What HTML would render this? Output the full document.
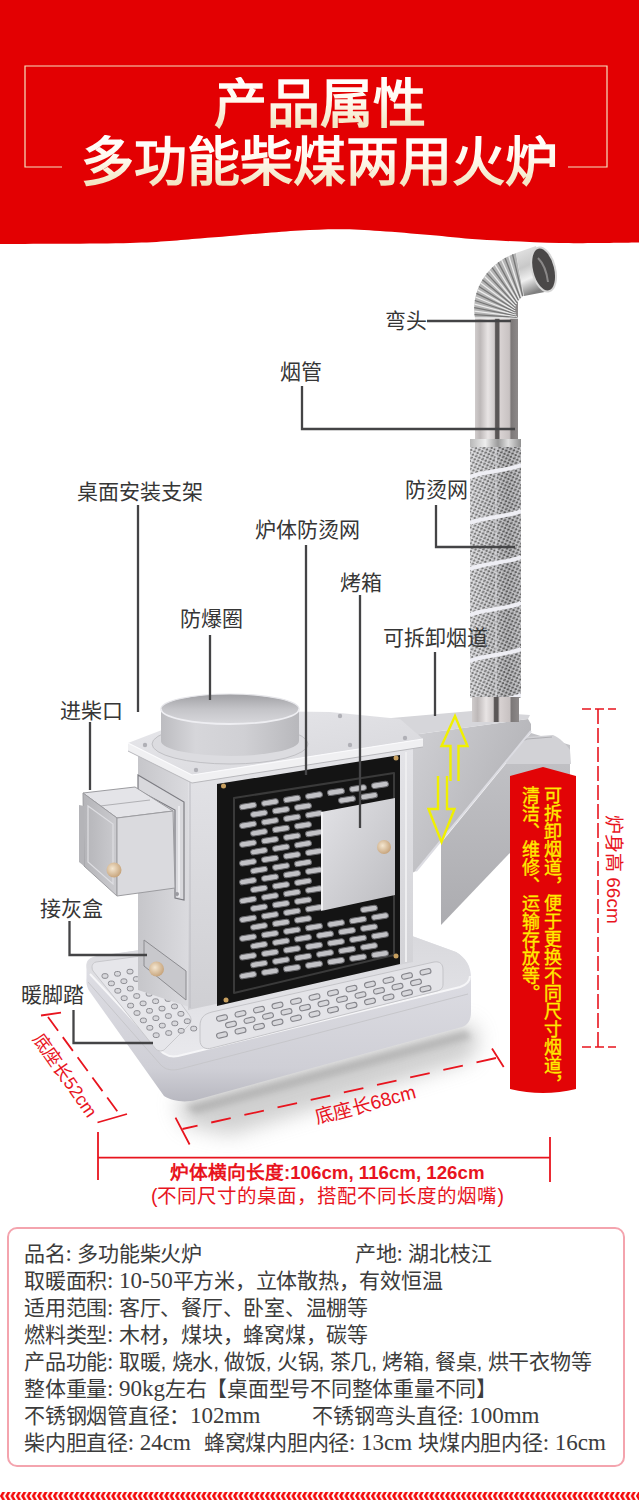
<!DOCTYPE html>
<html lang="zh-CN"><head><meta charset="utf-8">
<style>
html,body{margin:0;padding:0;}
body{width:639px;height:1500px;position:relative;overflow:hidden;background:#fff;font-family:"Liberation Sans",sans-serif;}
.a{position:absolute;white-space:nowrap;}
.lbl{position:absolute;white-space:nowrap;font-size:21px;line-height:21px;color:#363636;}
.title{position:absolute;left:0;width:639px;text-align:center;font-family:"Liberation Serif",serif;font-weight:bold;font-size:53px;line-height:56px;color:#fdf6e0;
 background:linear-gradient(180deg,#ffffff 0%,#fffaf0 40%,#f0e0b8 100%);-webkit-background-clip:text;background-clip:text;-webkit-text-fill-color:transparent;}
.spec{position:absolute;left:24px;font-size:21px;letter-spacing:-0.25px;line-height:27px;color:#3c3c3c;white-space:nowrap;}
.vcol{position:absolute;color:#ffec00;font-size:18px;line-height:18px;width:20px;-webkit-text-stroke:0.35px #ffec00;}
.pu{position:relative;left:11px;top:-11px;}
.L{font-family:"Liberation Serif",serif;font-size:23px;letter-spacing:0;}
</style></head>
<body>
<svg class="a" style="left:0;top:0" width="639" height="1500" viewBox="0 0 639 1500">
<defs>
<linearGradient id="gFront" x1="0" y1="0" x2="0" y2="1"><stop offset="0" stop-color="#e4e4e8"/><stop offset="1" stop-color="#cfcfd3"/></linearGradient>
<linearGradient id="gSide" x1="0" y1="0" x2="1" y2="0"><stop offset="0" stop-color="#c6c6ca"/><stop offset="1" stop-color="#dcdce0"/></linearGradient>
<linearGradient id="gPlate" x1="0" y1="0" x2="1" y2="1"><stop offset="0" stop-color="#e8e8ec"/><stop offset="1" stop-color="#d6d6da"/></linearGradient>
<linearGradient id="gRing" x1="0" y1="0" x2="1" y2="0"><stop offset="0" stop-color="#bcbcc0"/><stop offset="0.25" stop-color="#d6d6da"/><stop offset="0.6" stop-color="#d0d0d4"/><stop offset="1" stop-color="#b8b8bc"/></linearGradient>
<linearGradient id="gRingIn" x1="0" y1="0" x2="0" y2="1"><stop offset="0" stop-color="#a9a9ad"/><stop offset="1" stop-color="#c9c9cd"/></linearGradient>
<linearGradient id="gDoor" x1="0" y1="0" x2="1" y2="1"><stop offset="0" stop-color="#e2e2e6"/><stop offset="1" stop-color="#bdbdc1"/></linearGradient>
<linearGradient id="gTrayWall" x1="0" y1="0" x2="0" y2="1"><stop offset="0" stop-color="#e2e2e8"/><stop offset="0.8" stop-color="#cfcfd6"/><stop offset="1" stop-color="#b8b8c0"/></linearGradient>
<linearGradient id="gTrayTop" x1="0" y1="0" x2="0" y2="1"><stop offset="0" stop-color="#d9d9dd"/><stop offset="1" stop-color="#e9e9ed"/></linearGradient>
<linearGradient id="gShelf" x1="0" y1="0" x2="1" y2="0.6"><stop offset="0" stop-color="#d0d0d4"/><stop offset="1" stop-color="#b0b0b4"/></linearGradient>
<linearGradient id="gPanel2" x1="0" y1="0" x2="0" y2="1"><stop offset="0" stop-color="#c4c4c8"/><stop offset="1" stop-color="#acacb0"/></linearGradient>
<linearGradient id="gPipe" x1="0" y1="0" x2="1" y2="0"><stop offset="0" stop-color="#d0cccc"/><stop offset="0.12" stop-color="#bdb8b8"/><stop offset="0.3" stop-color="#e8e4e4"/><stop offset="0.45" stop-color="#cfcaca"/><stop offset="0.48" stop-color="#5a5656"/><stop offset="0.55" stop-color="#5a5656"/><stop offset="0.59" stop-color="#d8d2d2"/><stop offset="0.8" stop-color="#c8c2c2"/><stop offset="0.84" stop-color="#7c7878"/><stop offset="1" stop-color="#8e8a8a"/></linearGradient>
<linearGradient id="gMesh" x1="0" y1="0" x2="1" y2="0"><stop offset="0" stop-color="#ffffff"/><stop offset="0.4" stop-color="#c8c8c8"/><stop offset="0.75" stop-color="#808080"/><stop offset="1" stop-color="#b0b0b0"/></linearGradient>
<linearGradient id="gShadow" x1="0" y1="0" x2="0" y2="1"><stop offset="0" stop-color="#c8c8c8"/><stop offset="0.5" stop-color="#e8e8e8"/><stop offset="1" stop-color="#ffffff" stop-opacity="0"/></linearGradient>
<linearGradient id="gBoxL" x1="0" y1="0" x2="1" y2="0"><stop offset="0" stop-color="#b4b4b8"/><stop offset="1" stop-color="#cbcbcf"/></linearGradient>
<linearGradient id="gCol2" x1="0" y1="0" x2="1" y2="0"><stop offset="0" stop-color="#b8b8b8"/><stop offset="0.3" stop-color="#eeeeee"/><stop offset="0.55" stop-color="#9a9a9a"/><stop offset="0.75" stop-color="#e0e0e0"/><stop offset="1" stop-color="#909090"/></linearGradient>
<radialGradient id="gKnob" cx="0.4" cy="0.4" r="0.6"><stop offset="0" stop-color="#f4e6d0"/><stop offset="1" stop-color="#c8a67e"/></radialGradient>
<filter id="fBlur" x="-30%" y="-30%" width="160%" height="160%"><feGaussianBlur stdDeviation="10"/></filter>
<filter id="fBlur2" x="-30%" y="-100%" width="160%" height="300%"><feGaussianBlur stdDeviation="3"/></filter>
<clipPath id="cMesh"><rect x="470" y="447" width="51" height="250"/></clipPath>
<pattern id="pMesh" width="5" height="5" patternUnits="userSpaceOnUse" patternTransform="rotate(-20)"><rect width="5" height="5" fill="#d4d4d8"/><ellipse cx="1.5" cy="1.5" rx="1.5" ry="0.9" fill="#383838"/><ellipse cx="4" cy="4" rx="1.5" ry="0.9" fill="#383838"/></pattern>
</defs>
<path d="M0,0 L639,0 L639,242.5 C625.8,242.6 586.5,243.5 560.0,243.0 C533.5,242.5 501.7,240.8 480.0,239.5 C458.3,238.2 446.7,236.4 430.0,235.0 C413.3,233.6 395.0,232.0 380.0,231.0 C365.0,230.0 353.3,229.3 340.0,229.2 C326.7,229.1 313.3,229.8 300.0,230.5 C286.7,231.2 276.7,232.2 260.0,233.5 C243.3,234.8 221.7,236.9 200.0,238.5 C178.3,240.1 163.3,242.1 130.0,243.0 C96.7,243.9 21.7,243.8 0.0,244.0 Z" fill="#e30002"/>
<path d="M62,167 H25 V66 H607 V167 H568" stroke="#f6e2c0" stroke-width="1.2" fill="none"/>
<path d="M175,1100 L470,1022 L480,1040 L470,1060 L230,1135 L185,1125 Z" fill="#b0b0b0" opacity="0.6" filter="url(#fBlur)"/>
<path d="M185,1106 L466,1030 L472,1038 L195,1114 Z" fill="#8a8a8a" opacity="0.4" filter="url(#fBlur2)"/>
<polygon points="441,843 531,733 570,745 570,790 441,925" fill="url(#gPanel2)" />
<path d="M506,758 C512,748 518,740 526,737 L553,735 C560,738 566,744 570,750 L571,764 L506,764 Z" fill="#d2d2d6"/>
<path d="M508,757 C515,747 520,741 527,739 L552,737" stroke="#b0b0b4" stroke-width="1.2" fill="none"/>
<polygon points="412,735 528,719 531,724 531,731 416,871 412,873" fill="url(#gShelf)" />
<line x1="531" y1="731" x2="416" y2="871" stroke="#dcdce2" stroke-width="2"/>
<polygon points="380,719 472,711 530,715 528,719 412,735" fill="#d6d6da" />
<rect x="475" y="300" width="43" height="145" fill="url(#gPipe)"/>
<polygon points="475,318 474.707,316.139 474.481,314.258 474.321,312.358 474.228,310.443 474.205,308.514 474.251,306.575 474.367,304.628 474.554,302.675 474.812,300.718 475.142,298.761 475.545,296.807 476.019,294.857 476.567,292.914 477.186,290.982 477.879,289.062 478.644,287.159 479.481,285.273 480.389,283.409 481.369,281.568 482.42,279.754 483.541,277.969 484.732,276.216 485.991,274.498 487.317,272.817 488.71,271.176 490.168,269.577 491.69,268.023 493.274,266.517 494.92,265.061 496.625,263.657 498.388,262.308 500.207,261.016 502.081,259.784 504.006,258.614 505.982,257.507 508.007,256.467 510.077,255.494 512.19,254.591 514.345,253.76 516.539,253.003 524.006,295.349 523.286,295.821 522.593,296.314 521.929,296.828 521.294,297.362 520.689,297.914 520.115,298.483 519.57,299.067 519.057,299.665 518.575,300.275 518.125,300.896 517.706,301.527 517.319,302.165 516.964,302.811 516.641,303.461 516.349,304.115 516.089,304.772 515.861,305.43 515.663,306.087 515.497,306.742 515.36,307.394 515.254,308.042 515.177,308.684 515.129,309.319 515.11,309.945 515.118,310.562 515.153,311.169 515.215,311.764 515.302,312.346 515.413,312.915 515.549,313.468 515.708,314.006 515.888,314.527 516.09,315.03 516.311,315.515 516.552,315.981 516.81,316.427 517.085,316.853 517.376,317.257 517.681,317.64 518,318" fill="#b4b4b4" />
<line x1="475.0" y1="318.0" x2="518.0" y2="318.0" stroke="#ececec" stroke-width="1.3"/>
<line x1="474.5" y1="314.6" x2="517.4" y2="317.3" stroke="#767676" stroke-width="1.3"/>
<line x1="474.3" y1="311.1" x2="516.9" y2="316.6" stroke="#ececec" stroke-width="1.3"/>
<line x1="474.2" y1="307.6" x2="516.4" y2="315.8" stroke="#767676" stroke-width="1.3"/>
<line x1="474.4" y1="304.1" x2="516.0" y2="314.9" stroke="#ececec" stroke-width="1.3"/>
<line x1="474.8" y1="300.5" x2="515.7" y2="314.0" stroke="#767676" stroke-width="1.3"/>
<line x1="475.5" y1="297.0" x2="515.4" y2="313.0" stroke="#ececec" stroke-width="1.3"/>
<line x1="476.4" y1="293.4" x2="515.2" y2="311.9" stroke="#767676" stroke-width="1.3"/>
<line x1="477.6" y1="289.9" x2="515.1" y2="310.8" stroke="#ececec" stroke-width="1.3"/>
<line x1="478.9" y1="286.5" x2="515.1" y2="309.7" stroke="#767676" stroke-width="1.3"/>
<line x1="480.6" y1="283.1" x2="515.2" y2="308.6" stroke="#ececec" stroke-width="1.3"/>
<line x1="482.4" y1="279.8" x2="515.4" y2="307.4" stroke="#767676" stroke-width="1.3"/>
<line x1="484.5" y1="276.5" x2="515.6" y2="306.2" stroke="#ececec" stroke-width="1.3"/>
<line x1="486.8" y1="273.4" x2="516.0" y2="305.0" stroke="#767676" stroke-width="1.3"/>
<line x1="489.4" y1="270.4" x2="516.5" y2="303.8" stroke="#ececec" stroke-width="1.3"/>
<line x1="492.1" y1="267.6" x2="517.1" y2="302.6" stroke="#767676" stroke-width="1.3"/>
<line x1="495.1" y1="264.9" x2="517.7" y2="301.5" stroke="#ececec" stroke-width="1.3"/>
<line x1="498.2" y1="262.4" x2="518.5" y2="300.3" stroke="#767676" stroke-width="1.3"/>
<line x1="501.6" y1="260.1" x2="519.4" y2="299.2" stroke="#ececec" stroke-width="1.3"/>
<line x1="505.1" y1="258.0" x2="520.4" y2="298.2" stroke="#767676" stroke-width="1.3"/>
<line x1="508.8" y1="256.1" x2="521.5" y2="297.2" stroke="#ececec" stroke-width="1.3"/>
<line x1="512.6" y1="254.4" x2="522.7" y2="296.2" stroke="#767676" stroke-width="1.3"/>
<line x1="516.5" y1="253.0" x2="524.0" y2="295.3" stroke="#ececec" stroke-width="1.3"/>
<defs><linearGradient id="gCol" x1="0" y1="0" x2="0.3" y2="1"><stop offset="0" stop-color="#e8e8e8"/><stop offset="0.45" stop-color="#c8c8c8"/><stop offset="0.7" stop-color="#f0f0f0"/><stop offset="1" stop-color="#808080"/></linearGradient></defs>
<polygon points="516,253 536,246 550,291 524,296" fill="url(#gCol)" />
<ellipse cx="543.6" cy="269.5" rx="11.5" ry="22.5" transform="rotate(-14 543.6 269.5)" fill="#4a4848" stroke="#d6d6d6" stroke-width="2"/>
<path d="M538,258 Q546,266 548,282" stroke="#8a8888" stroke-width="2" fill="none"/>
<rect x="470" y="440" width="51" height="258" fill="url(#pMesh)"/>
<rect x="470" y="440" width="51" height="258" fill="url(#gMesh)" opacity="0.3"/>
<line x1="496" y1="447" x2="496" y2="698" stroke="#e0e0e4" stroke-width="2" opacity="0.5"/>
<path d="M470.0,478.0 L470.3,477.3 L471.2,476.6 L472.8,475.9 L474.9,475.2 L477.5,474.5 L480.5,473.8 L483.9,473.1 L487.6,472.4 L491.5,471.7 L495.5,471.0 L499.5,470.3 L503.4,469.6 L507.1,468.9 L510.5,468.2 L513.5,467.5 L516.1,466.8 L518.2,466.1 L519.8,465.4 L520.7,464.7 L521.0,464.0" stroke="#eeeef4" stroke-width="4" fill="none" clip-path="url(#cMesh)"/>
<path d="M470.0,524.0 L470.3,523.3 L471.2,522.6 L472.8,521.9 L474.9,521.2 L477.5,520.5 L480.5,519.8 L483.9,519.1 L487.6,518.4 L491.5,517.7 L495.5,517.0 L499.5,516.3 L503.4,515.6 L507.1,514.9 L510.5,514.2 L513.5,513.5 L516.1,512.8 L518.2,512.1 L519.8,511.4 L520.7,510.7 L521.0,510.0" stroke="#eeeef4" stroke-width="4" fill="none" clip-path="url(#cMesh)"/>
<path d="M470.0,570.0 L470.3,569.3 L471.2,568.6 L472.8,567.9 L474.9,567.2 L477.5,566.5 L480.5,565.8 L483.9,565.1 L487.6,564.4 L491.5,563.7 L495.5,563.0 L499.5,562.3 L503.4,561.6 L507.1,560.9 L510.5,560.2 L513.5,559.5 L516.1,558.8 L518.2,558.1 L519.8,557.4 L520.7,556.7 L521.0,556.0" stroke="#eeeef4" stroke-width="4" fill="none" clip-path="url(#cMesh)"/>
<path d="M470.0,616.0 L470.3,615.3 L471.2,614.6 L472.8,613.9 L474.9,613.2 L477.5,612.5 L480.5,611.8 L483.9,611.1 L487.6,610.4 L491.5,609.7 L495.5,609.0 L499.5,608.3 L503.4,607.6 L507.1,606.9 L510.5,606.2 L513.5,605.5 L516.1,604.8 L518.2,604.1 L519.8,603.4 L520.7,602.7 L521.0,602.0" stroke="#eeeef4" stroke-width="4" fill="none" clip-path="url(#cMesh)"/>
<path d="M470.0,662.0 L470.3,661.3 L471.2,660.6 L472.8,659.9 L474.9,659.2 L477.5,658.5 L480.5,657.8 L483.9,657.1 L487.6,656.4 L491.5,655.7 L495.5,655.0 L499.5,654.3 L503.4,653.6 L507.1,652.9 L510.5,652.2 L513.5,651.5 L516.1,650.8 L518.2,650.1 L519.8,649.4 L520.7,648.7 L521.0,648.0" stroke="#eeeef4" stroke-width="4" fill="none" clip-path="url(#cMesh)"/>
<path d="M470.0,708.0 L470.3,707.3 L471.2,706.6 L472.8,705.9 L474.9,705.2 L477.5,704.5 L480.5,703.8 L483.9,703.1 L487.6,702.4 L491.5,701.7 L495.5,701.0 L499.5,700.3 L503.4,699.6 L507.1,698.9 L510.5,698.2 L513.5,697.5 L516.1,696.8 L518.2,696.1 L519.8,695.4 L520.7,694.7 L521.0,694.0" stroke="#eeeef4" stroke-width="4" fill="none" clip-path="url(#cMesh)"/>
<rect x="470" y="439" width="51" height="8" fill="url(#gCol2)"/>
<rect x="472" y="697" width="47" height="25" fill="url(#gPipe)"/>
<path d="M86.5,966 C86,961 89,958 94,957 L140,950 L412,936 L456,952 C466,958 471,966 471,978 L471,1012 C471,1020 468,1025 462,1027 L196,1100 C184,1103 172,1101 164,1096 L90,992 C87,988 86,984 86.5,978 Z" fill="url(#gTrayWall)"/>
<path d="M86.5,966 C87,960 91,957 97,956 L140,950 L412,936 L456,952 C466,958 470,966 470,976 C470,982 466,985 460,987 L178,1056 C168,1058 160,1052 155,1044 L90,974 C87.5,971 86.5,969 86.5,966 Z" fill="url(#gTrayTop)"/>
<path d="M90,974 L155,1044 C160,1052 168,1058 178,1056 L460,987 C466,985 470,982 470,976" stroke="#f6f6f8" stroke-width="2" fill="none"/>
<path d="M88,982 L160,1064 C165,1070 172,1071 180,1069 L468,994" stroke="#c6c6ca" stroke-width="1" fill="none"/>
<path d="M96,962 L141,956 C145,956 147,957 149,960 L190,1016 C192,1020 191,1023 188,1026 L166,1048 C163,1052 158,1052 155,1048 L93,971 C91,967 92,963 96,962 Z" fill="#e6e6ea" stroke="#c8c8cc" stroke-width="1"/>
<rect x="102" y="973.7" width="6" height="4.6" rx="2" fill="#d8d8dc" stroke="#8c8c92" stroke-width="1"/>
<rect x="114.5" y="971.5" width="6" height="4.6" rx="2" fill="#d8d8dc" stroke="#8c8c92" stroke-width="1"/>
<rect x="127" y="969.3" width="6" height="4.6" rx="2" fill="#d8d8dc" stroke="#8c8c92" stroke-width="1"/>
<rect x="108.4" y="981.1" width="6" height="4.6" rx="2" fill="#d8d8dc" stroke="#8c8c92" stroke-width="1"/>
<rect x="120.9" y="978.9" width="6" height="4.6" rx="2" fill="#d8d8dc" stroke="#8c8c92" stroke-width="1"/>
<rect x="133.4" y="976.7" width="6" height="4.6" rx="2" fill="#d8d8dc" stroke="#8c8c92" stroke-width="1"/>
<rect x="114.8" y="988.5" width="6" height="4.6" rx="2" fill="#d8d8dc" stroke="#8c8c92" stroke-width="1"/>
<rect x="127.3" y="986.3" width="6" height="4.6" rx="2" fill="#d8d8dc" stroke="#8c8c92" stroke-width="1"/>
<rect x="139.8" y="984.1" width="6" height="4.6" rx="2" fill="#d8d8dc" stroke="#8c8c92" stroke-width="1"/>
<rect x="121.2" y="995.9" width="6" height="4.6" rx="2" fill="#d8d8dc" stroke="#8c8c92" stroke-width="1"/>
<rect x="133.7" y="993.7" width="6" height="4.6" rx="2" fill="#d8d8dc" stroke="#8c8c92" stroke-width="1"/>
<rect x="146.2" y="991.5" width="6" height="4.6" rx="2" fill="#d8d8dc" stroke="#8c8c92" stroke-width="1"/>
<rect x="158.7" y="989.3" width="6" height="4.6" rx="2" fill="#d8d8dc" stroke="#8c8c92" stroke-width="1"/>
<rect x="127.6" y="1003.3" width="6" height="4.6" rx="2" fill="#d8d8dc" stroke="#8c8c92" stroke-width="1"/>
<rect x="140.1" y="1001.1" width="6" height="4.6" rx="2" fill="#d8d8dc" stroke="#8c8c92" stroke-width="1"/>
<rect x="152.6" y="998.9" width="6" height="4.6" rx="2" fill="#d8d8dc" stroke="#8c8c92" stroke-width="1"/>
<rect x="165.1" y="996.7" width="6" height="4.6" rx="2" fill="#d8d8dc" stroke="#8c8c92" stroke-width="1"/>
<rect x="134" y="1010.7" width="6" height="4.6" rx="2" fill="#d8d8dc" stroke="#8c8c92" stroke-width="1"/>
<rect x="146.5" y="1008.5" width="6" height="4.6" rx="2" fill="#d8d8dc" stroke="#8c8c92" stroke-width="1"/>
<rect x="159" y="1006.3" width="6" height="4.6" rx="2" fill="#d8d8dc" stroke="#8c8c92" stroke-width="1"/>
<rect x="171.5" y="1004.1" width="6" height="4.6" rx="2" fill="#d8d8dc" stroke="#8c8c92" stroke-width="1"/>
<rect x="140.4" y="1018.1" width="6" height="4.6" rx="2" fill="#d8d8dc" stroke="#8c8c92" stroke-width="1"/>
<rect x="152.9" y="1015.9" width="6" height="4.6" rx="2" fill="#d8d8dc" stroke="#8c8c92" stroke-width="1"/>
<rect x="165.4" y="1013.7" width="6" height="4.6" rx="2" fill="#d8d8dc" stroke="#8c8c92" stroke-width="1"/>
<rect x="177.9" y="1011.5" width="6" height="4.6" rx="2" fill="#d8d8dc" stroke="#8c8c92" stroke-width="1"/>
<rect x="146.8" y="1025.5" width="6" height="4.6" rx="2" fill="#d8d8dc" stroke="#8c8c92" stroke-width="1"/>
<rect x="159.3" y="1023.3" width="6" height="4.6" rx="2" fill="#d8d8dc" stroke="#8c8c92" stroke-width="1"/>
<rect x="171.8" y="1021.1" width="6" height="4.6" rx="2" fill="#d8d8dc" stroke="#8c8c92" stroke-width="1"/>
<rect x="184.3" y="1018.9" width="6" height="4.6" rx="2" fill="#d8d8dc" stroke="#8c8c92" stroke-width="1"/>
<rect x="153.2" y="1032.9" width="6" height="4.6" rx="2" fill="#d8d8dc" stroke="#8c8c92" stroke-width="1"/>
<rect x="165.7" y="1030.7" width="6" height="4.6" rx="2" fill="#d8d8dc" stroke="#8c8c92" stroke-width="1"/>
<rect x="178.2" y="1028.5" width="6" height="4.6" rx="2" fill="#d8d8dc" stroke="#8c8c92" stroke-width="1"/>
<rect x="190.7" y="1026.3" width="6" height="4.6" rx="2" fill="#d8d8dc" stroke="#8c8c92" stroke-width="1"/>
<path d="M200,1026 C200,1018 204,1014 212,1012 L434,962 C440,961 443,964 443,970 L443,984 C443,988 441,990 437,991 L212,1048 C205,1050 200,1047 200,1040 Z" fill="#e4e4e8" stroke="#c4c4c8" stroke-width="1"/>
<rect x="216.5" y="1015.5" width="11" height="5" rx="2.5" fill="#d8d8dc" stroke="#85858b" stroke-width="1.1" transform="rotate(-13 222 1018)"/>
<rect x="235" y="1011.3" width="11" height="5" rx="2.5" fill="#d8d8dc" stroke="#85858b" stroke-width="1.1" transform="rotate(-13 240.5 1013.8)"/>
<rect x="253.5" y="1007.1" width="11" height="5" rx="2.5" fill="#d8d8dc" stroke="#85858b" stroke-width="1.1" transform="rotate(-13 259 1009.6)"/>
<rect x="272" y="1002.9" width="11" height="5" rx="2.5" fill="#d8d8dc" stroke="#85858b" stroke-width="1.1" transform="rotate(-13 277.5 1005.4)"/>
<rect x="290.5" y="998.7" width="11" height="5" rx="2.5" fill="#d8d8dc" stroke="#85858b" stroke-width="1.1" transform="rotate(-13 296 1001.2)"/>
<rect x="309" y="994.5" width="11" height="5" rx="2.5" fill="#d8d8dc" stroke="#85858b" stroke-width="1.1" transform="rotate(-13 314.5 997)"/>
<rect x="327.5" y="990.3" width="11" height="5" rx="2.5" fill="#d8d8dc" stroke="#85858b" stroke-width="1.1" transform="rotate(-13 333 992.8)"/>
<rect x="346" y="986.1" width="11" height="5" rx="2.5" fill="#d8d8dc" stroke="#85858b" stroke-width="1.1" transform="rotate(-13 351.5 988.6)"/>
<rect x="364.5" y="981.9" width="11" height="5" rx="2.5" fill="#d8d8dc" stroke="#85858b" stroke-width="1.1" transform="rotate(-13 370 984.4)"/>
<rect x="383" y="977.7" width="11" height="5" rx="2.5" fill="#d8d8dc" stroke="#85858b" stroke-width="1.1" transform="rotate(-13 388.5 980.2)"/>
<rect x="401.5" y="973.5" width="11" height="5" rx="2.5" fill="#d8d8dc" stroke="#85858b" stroke-width="1.1" transform="rotate(-13 407 976)"/>
<rect x="420" y="969.3" width="11" height="5" rx="2.5" fill="#d8d8dc" stroke="#85858b" stroke-width="1.1" transform="rotate(-13 425.5 971.8)"/>
<rect x="225.5" y="1021.9" width="11" height="5" rx="2.5" fill="#d8d8dc" stroke="#85858b" stroke-width="1.1" transform="rotate(-13 231 1024.4)"/>
<rect x="244" y="1017.7" width="11" height="5" rx="2.5" fill="#d8d8dc" stroke="#85858b" stroke-width="1.1" transform="rotate(-13 249.5 1020.2)"/>
<rect x="262.5" y="1013.5" width="11" height="5" rx="2.5" fill="#d8d8dc" stroke="#85858b" stroke-width="1.1" transform="rotate(-13 268 1016)"/>
<rect x="281" y="1009.3" width="11" height="5" rx="2.5" fill="#d8d8dc" stroke="#85858b" stroke-width="1.1" transform="rotate(-13 286.5 1011.8)"/>
<rect x="299.5" y="1005.1" width="11" height="5" rx="2.5" fill="#d8d8dc" stroke="#85858b" stroke-width="1.1" transform="rotate(-13 305 1007.6)"/>
<rect x="318" y="1000.9" width="11" height="5" rx="2.5" fill="#d8d8dc" stroke="#85858b" stroke-width="1.1" transform="rotate(-13 323.5 1003.4)"/>
<rect x="336.5" y="996.7" width="11" height="5" rx="2.5" fill="#d8d8dc" stroke="#85858b" stroke-width="1.1" transform="rotate(-13 342 999.2)"/>
<rect x="355" y="992.5" width="11" height="5" rx="2.5" fill="#d8d8dc" stroke="#85858b" stroke-width="1.1" transform="rotate(-13 360.5 995)"/>
<rect x="373.5" y="988.3" width="11" height="5" rx="2.5" fill="#d8d8dc" stroke="#85858b" stroke-width="1.1" transform="rotate(-13 379 990.8)"/>
<rect x="392" y="984.1" width="11" height="5" rx="2.5" fill="#d8d8dc" stroke="#85858b" stroke-width="1.1" transform="rotate(-13 397.5 986.6)"/>
<rect x="410.5" y="979.9" width="11" height="5" rx="2.5" fill="#d8d8dc" stroke="#85858b" stroke-width="1.1" transform="rotate(-13 416 982.4)"/>
<rect x="216.5" y="1032.5" width="11" height="5" rx="2.5" fill="#d8d8dc" stroke="#85858b" stroke-width="1.1" transform="rotate(-13 222 1035)"/>
<rect x="235" y="1028.3" width="11" height="5" rx="2.5" fill="#d8d8dc" stroke="#85858b" stroke-width="1.1" transform="rotate(-13 240.5 1030.8)"/>
<rect x="253.5" y="1024.1" width="11" height="5" rx="2.5" fill="#d8d8dc" stroke="#85858b" stroke-width="1.1" transform="rotate(-13 259 1026.6)"/>
<rect x="272" y="1019.9" width="11" height="5" rx="2.5" fill="#d8d8dc" stroke="#85858b" stroke-width="1.1" transform="rotate(-13 277.5 1022.4)"/>
<rect x="290.5" y="1015.7" width="11" height="5" rx="2.5" fill="#d8d8dc" stroke="#85858b" stroke-width="1.1" transform="rotate(-13 296 1018.2)"/>
<rect x="309" y="1011.5" width="11" height="5" rx="2.5" fill="#d8d8dc" stroke="#85858b" stroke-width="1.1" transform="rotate(-13 314.5 1014)"/>
<rect x="327.5" y="1007.3" width="11" height="5" rx="2.5" fill="#d8d8dc" stroke="#85858b" stroke-width="1.1" transform="rotate(-13 333 1009.8)"/>
<rect x="346" y="1003.1" width="11" height="5" rx="2.5" fill="#d8d8dc" stroke="#85858b" stroke-width="1.1" transform="rotate(-13 351.5 1005.6)"/>
<rect x="364.5" y="998.9" width="11" height="5" rx="2.5" fill="#d8d8dc" stroke="#85858b" stroke-width="1.1" transform="rotate(-13 370 1001.4)"/>
<rect x="383" y="994.7" width="11" height="5" rx="2.5" fill="#d8d8dc" stroke="#85858b" stroke-width="1.1" transform="rotate(-13 388.5 997.2)"/>
<rect x="401.5" y="990.5" width="11" height="5" rx="2.5" fill="#d8d8dc" stroke="#85858b" stroke-width="1.1" transform="rotate(-13 407 993)"/>
<rect x="420" y="986.3" width="11" height="5" rx="2.5" fill="#d8d8dc" stroke="#85858b" stroke-width="1.1" transform="rotate(-13 425.5 988.8)"/>
<polygon points="138,752 192,782 192,1008 138,990" fill="url(#gSide)" />
<polygon points="188,782 413,747 413,962 188,1010" fill="url(#gFront)" />
<line x1="190" y1="782" x2="190" y2="1008" stroke="#bcbcc2" stroke-width="1"/>
<line x1="406" y1="752" x2="406" y2="962" stroke="#eeeef0" stroke-width="2"/>
<polygon points="217,784 400,755 400,964 217,1006" fill="#141414" />
<path d="M234,798 L394,773 L394,955 L234,993 Z" fill="none" stroke="#3a3a3a" stroke-width="2" stroke-linejoin="round"/>
<rect x="239.5" y="803.25" width="17" height="5.5" rx="2.7" fill="#c2c2c6" stroke="#6a6a6e" stroke-width="1" transform="rotate(-9 248 806)"/>
<rect x="261.5" y="799.73" width="17" height="5.5" rx="2.7" fill="#c2c2c6" stroke="#6a6a6e" stroke-width="1" transform="rotate(-9 270 802.48)"/>
<rect x="283.5" y="796.21" width="17" height="5.5" rx="2.7" fill="#c2c2c6" stroke="#6a6a6e" stroke-width="1" transform="rotate(-9 292 798.96)"/>
<rect x="305.5" y="792.69" width="17" height="5.5" rx="2.7" fill="#c2c2c6" stroke="#6a6a6e" stroke-width="1" transform="rotate(-9 314 795.44)"/>
<rect x="327.5" y="789.17" width="17" height="5.5" rx="2.7" fill="#c2c2c6" stroke="#6a6a6e" stroke-width="1" transform="rotate(-9 336 791.92)"/>
<rect x="349.5" y="785.65" width="17" height="5.5" rx="2.7" fill="#c2c2c6" stroke="#6a6a6e" stroke-width="1" transform="rotate(-9 358 788.4)"/>
<rect x="371.5" y="782.13" width="17" height="5.5" rx="2.7" fill="#c2c2c6" stroke="#6a6a6e" stroke-width="1" transform="rotate(-9 380 784.88)"/>
<rect x="250.5" y="810.89" width="17" height="5.5" rx="2.7" fill="#c2c2c6" stroke="#6a6a6e" stroke-width="1" transform="rotate(-9 259 813.64)"/>
<rect x="272.5" y="807.37" width="17" height="5.5" rx="2.7" fill="#c2c2c6" stroke="#6a6a6e" stroke-width="1" transform="rotate(-9 281 810.12)"/>
<rect x="294.5" y="803.85" width="17" height="5.5" rx="2.7" fill="#c2c2c6" stroke="#6a6a6e" stroke-width="1" transform="rotate(-9 303 806.6)"/>
<rect x="338.5" y="796.81" width="17" height="5.5" rx="2.7" fill="#c2c2c6" stroke="#6a6a6e" stroke-width="1" transform="rotate(-9 347 799.56)"/>
<rect x="360.5" y="793.29" width="17" height="5.5" rx="2.7" fill="#c2c2c6" stroke="#6a6a6e" stroke-width="1" transform="rotate(-9 369 796.04)"/>
<rect x="239.5" y="822.05" width="17" height="5.5" rx="2.7" fill="#c2c2c6" stroke="#6a6a6e" stroke-width="1" transform="rotate(-9 248 824.8)"/>
<rect x="261.5" y="818.53" width="17" height="5.5" rx="2.7" fill="#c2c2c6" stroke="#6a6a6e" stroke-width="1" transform="rotate(-9 270 821.28)"/>
<rect x="283.5" y="815.01" width="17" height="5.5" rx="2.7" fill="#c2c2c6" stroke="#6a6a6e" stroke-width="1" transform="rotate(-9 292 817.76)"/>
<rect x="305.5" y="811.49" width="17" height="5.5" rx="2.7" fill="#c2c2c6" stroke="#6a6a6e" stroke-width="1" transform="rotate(-9 314 814.24)"/>
<rect x="250.5" y="829.69" width="17" height="5.5" rx="2.7" fill="#c2c2c6" stroke="#6a6a6e" stroke-width="1" transform="rotate(-9 259 832.44)"/>
<rect x="272.5" y="826.17" width="17" height="5.5" rx="2.7" fill="#c2c2c6" stroke="#6a6a6e" stroke-width="1" transform="rotate(-9 281 828.92)"/>
<rect x="294.5" y="822.65" width="17" height="5.5" rx="2.7" fill="#c2c2c6" stroke="#6a6a6e" stroke-width="1" transform="rotate(-9 303 825.4)"/>
<rect x="239.5" y="840.85" width="17" height="5.5" rx="2.7" fill="#c2c2c6" stroke="#6a6a6e" stroke-width="1" transform="rotate(-9 248 843.6)"/>
<rect x="261.5" y="837.33" width="17" height="5.5" rx="2.7" fill="#c2c2c6" stroke="#6a6a6e" stroke-width="1" transform="rotate(-9 270 840.08)"/>
<rect x="283.5" y="833.81" width="17" height="5.5" rx="2.7" fill="#c2c2c6" stroke="#6a6a6e" stroke-width="1" transform="rotate(-9 292 836.56)"/>
<rect x="305.5" y="830.29" width="17" height="5.5" rx="2.7" fill="#c2c2c6" stroke="#6a6a6e" stroke-width="1" transform="rotate(-9 314 833.04)"/>
<rect x="250.5" y="848.49" width="17" height="5.5" rx="2.7" fill="#c2c2c6" stroke="#6a6a6e" stroke-width="1" transform="rotate(-9 259 851.24)"/>
<rect x="272.5" y="844.97" width="17" height="5.5" rx="2.7" fill="#c2c2c6" stroke="#6a6a6e" stroke-width="1" transform="rotate(-9 281 847.72)"/>
<rect x="294.5" y="841.45" width="17" height="5.5" rx="2.7" fill="#c2c2c6" stroke="#6a6a6e" stroke-width="1" transform="rotate(-9 303 844.2)"/>
<rect x="239.5" y="859.65" width="17" height="5.5" rx="2.7" fill="#c2c2c6" stroke="#6a6a6e" stroke-width="1" transform="rotate(-9 248 862.4)"/>
<rect x="261.5" y="856.13" width="17" height="5.5" rx="2.7" fill="#c2c2c6" stroke="#6a6a6e" stroke-width="1" transform="rotate(-9 270 858.88)"/>
<rect x="283.5" y="852.61" width="17" height="5.5" rx="2.7" fill="#c2c2c6" stroke="#6a6a6e" stroke-width="1" transform="rotate(-9 292 855.36)"/>
<rect x="305.5" y="849.09" width="17" height="5.5" rx="2.7" fill="#c2c2c6" stroke="#6a6a6e" stroke-width="1" transform="rotate(-9 314 851.84)"/>
<rect x="250.5" y="867.29" width="17" height="5.5" rx="2.7" fill="#c2c2c6" stroke="#6a6a6e" stroke-width="1" transform="rotate(-9 259 870.04)"/>
<rect x="272.5" y="863.77" width="17" height="5.5" rx="2.7" fill="#c2c2c6" stroke="#6a6a6e" stroke-width="1" transform="rotate(-9 281 866.52)"/>
<rect x="294.5" y="860.25" width="17" height="5.5" rx="2.7" fill="#c2c2c6" stroke="#6a6a6e" stroke-width="1" transform="rotate(-9 303 863)"/>
<rect x="239.5" y="878.45" width="17" height="5.5" rx="2.7" fill="#c2c2c6" stroke="#6a6a6e" stroke-width="1" transform="rotate(-9 248 881.2)"/>
<rect x="261.5" y="874.93" width="17" height="5.5" rx="2.7" fill="#c2c2c6" stroke="#6a6a6e" stroke-width="1" transform="rotate(-9 270 877.68)"/>
<rect x="283.5" y="871.41" width="17" height="5.5" rx="2.7" fill="#c2c2c6" stroke="#6a6a6e" stroke-width="1" transform="rotate(-9 292 874.16)"/>
<rect x="305.5" y="867.89" width="17" height="5.5" rx="2.7" fill="#c2c2c6" stroke="#6a6a6e" stroke-width="1" transform="rotate(-9 314 870.64)"/>
<rect x="250.5" y="886.09" width="17" height="5.5" rx="2.7" fill="#c2c2c6" stroke="#6a6a6e" stroke-width="1" transform="rotate(-9 259 888.84)"/>
<rect x="272.5" y="882.57" width="17" height="5.5" rx="2.7" fill="#c2c2c6" stroke="#6a6a6e" stroke-width="1" transform="rotate(-9 281 885.32)"/>
<rect x="294.5" y="879.05" width="17" height="5.5" rx="2.7" fill="#c2c2c6" stroke="#6a6a6e" stroke-width="1" transform="rotate(-9 303 881.8)"/>
<rect x="239.5" y="897.25" width="17" height="5.5" rx="2.7" fill="#c2c2c6" stroke="#6a6a6e" stroke-width="1" transform="rotate(-9 248 900)"/>
<rect x="261.5" y="893.73" width="17" height="5.5" rx="2.7" fill="#c2c2c6" stroke="#6a6a6e" stroke-width="1" transform="rotate(-9 270 896.48)"/>
<rect x="283.5" y="890.21" width="17" height="5.5" rx="2.7" fill="#c2c2c6" stroke="#6a6a6e" stroke-width="1" transform="rotate(-9 292 892.96)"/>
<rect x="305.5" y="886.69" width="17" height="5.5" rx="2.7" fill="#c2c2c6" stroke="#6a6a6e" stroke-width="1" transform="rotate(-9 314 889.44)"/>
<rect x="250.5" y="904.89" width="17" height="5.5" rx="2.7" fill="#c2c2c6" stroke="#6a6a6e" stroke-width="1" transform="rotate(-9 259 907.64)"/>
<rect x="272.5" y="901.37" width="17" height="5.5" rx="2.7" fill="#c2c2c6" stroke="#6a6a6e" stroke-width="1" transform="rotate(-9 281 904.12)"/>
<rect x="294.5" y="897.85" width="17" height="5.5" rx="2.7" fill="#c2c2c6" stroke="#6a6a6e" stroke-width="1" transform="rotate(-9 303 900.6)"/>
<rect x="239.5" y="916.05" width="17" height="5.5" rx="2.7" fill="#c2c2c6" stroke="#6a6a6e" stroke-width="1" transform="rotate(-9 248 918.8)"/>
<rect x="261.5" y="912.53" width="17" height="5.5" rx="2.7" fill="#c2c2c6" stroke="#6a6a6e" stroke-width="1" transform="rotate(-9 270 915.28)"/>
<rect x="283.5" y="909.01" width="17" height="5.5" rx="2.7" fill="#c2c2c6" stroke="#6a6a6e" stroke-width="1" transform="rotate(-9 292 911.76)"/>
<rect x="305.5" y="905.49" width="17" height="5.5" rx="2.7" fill="#c2c2c6" stroke="#6a6a6e" stroke-width="1" transform="rotate(-9 314 908.24)"/>
<rect x="250.5" y="923.69" width="17" height="5.5" rx="2.7" fill="#c2c2c6" stroke="#6a6a6e" stroke-width="1" transform="rotate(-9 259 926.44)"/>
<rect x="272.5" y="920.17" width="17" height="5.5" rx="2.7" fill="#c2c2c6" stroke="#6a6a6e" stroke-width="1" transform="rotate(-9 281 922.92)"/>
<rect x="294.5" y="916.65" width="17" height="5.5" rx="2.7" fill="#c2c2c6" stroke="#6a6a6e" stroke-width="1" transform="rotate(-9 303 919.4)"/>
<rect x="360.5" y="906.09" width="17" height="5.5" rx="2.7" fill="#c2c2c6" stroke="#6a6a6e" stroke-width="1" transform="rotate(-9 369 908.84)"/>
<rect x="239.5" y="934.85" width="17" height="5.5" rx="2.7" fill="#c2c2c6" stroke="#6a6a6e" stroke-width="1" transform="rotate(-9 248 937.6)"/>
<rect x="261.5" y="931.33" width="17" height="5.5" rx="2.7" fill="#c2c2c6" stroke="#6a6a6e" stroke-width="1" transform="rotate(-9 270 934.08)"/>
<rect x="283.5" y="927.81" width="17" height="5.5" rx="2.7" fill="#c2c2c6" stroke="#6a6a6e" stroke-width="1" transform="rotate(-9 292 930.56)"/>
<rect x="305.5" y="924.29" width="17" height="5.5" rx="2.7" fill="#c2c2c6" stroke="#6a6a6e" stroke-width="1" transform="rotate(-9 314 927.04)"/>
<rect x="327.5" y="920.77" width="17" height="5.5" rx="2.7" fill="#c2c2c6" stroke="#6a6a6e" stroke-width="1" transform="rotate(-9 336 923.52)"/>
<rect x="349.5" y="917.25" width="17" height="5.5" rx="2.7" fill="#c2c2c6" stroke="#6a6a6e" stroke-width="1" transform="rotate(-9 358 920)"/>
<rect x="371.5" y="913.73" width="17" height="5.5" rx="2.7" fill="#c2c2c6" stroke="#6a6a6e" stroke-width="1" transform="rotate(-9 380 916.48)"/>
<rect x="250.5" y="942.49" width="17" height="5.5" rx="2.7" fill="#c2c2c6" stroke="#6a6a6e" stroke-width="1" transform="rotate(-9 259 945.24)"/>
<rect x="272.5" y="938.97" width="17" height="5.5" rx="2.7" fill="#c2c2c6" stroke="#6a6a6e" stroke-width="1" transform="rotate(-9 281 941.72)"/>
<rect x="294.5" y="935.45" width="17" height="5.5" rx="2.7" fill="#c2c2c6" stroke="#6a6a6e" stroke-width="1" transform="rotate(-9 303 938.2)"/>
<rect x="316.5" y="931.93" width="17" height="5.5" rx="2.7" fill="#c2c2c6" stroke="#6a6a6e" stroke-width="1" transform="rotate(-9 325 934.68)"/>
<rect x="338.5" y="928.41" width="17" height="5.5" rx="2.7" fill="#c2c2c6" stroke="#6a6a6e" stroke-width="1" transform="rotate(-9 347 931.16)"/>
<rect x="360.5" y="924.89" width="17" height="5.5" rx="2.7" fill="#c2c2c6" stroke="#6a6a6e" stroke-width="1" transform="rotate(-9 369 927.64)"/>
<rect x="239.5" y="953.65" width="17" height="5.5" rx="2.7" fill="#c2c2c6" stroke="#6a6a6e" stroke-width="1" transform="rotate(-9 248 956.4)"/>
<rect x="261.5" y="950.13" width="17" height="5.5" rx="2.7" fill="#c2c2c6" stroke="#6a6a6e" stroke-width="1" transform="rotate(-9 270 952.88)"/>
<rect x="283.5" y="946.61" width="17" height="5.5" rx="2.7" fill="#c2c2c6" stroke="#6a6a6e" stroke-width="1" transform="rotate(-9 292 949.36)"/>
<rect x="305.5" y="943.09" width="17" height="5.5" rx="2.7" fill="#c2c2c6" stroke="#6a6a6e" stroke-width="1" transform="rotate(-9 314 945.84)"/>
<rect x="327.5" y="939.57" width="17" height="5.5" rx="2.7" fill="#c2c2c6" stroke="#6a6a6e" stroke-width="1" transform="rotate(-9 336 942.32)"/>
<rect x="349.5" y="936.05" width="17" height="5.5" rx="2.7" fill="#c2c2c6" stroke="#6a6a6e" stroke-width="1" transform="rotate(-9 358 938.8)"/>
<rect x="371.5" y="932.53" width="17" height="5.5" rx="2.7" fill="#c2c2c6" stroke="#6a6a6e" stroke-width="1" transform="rotate(-9 380 935.28)"/>
<rect x="250.5" y="961.29" width="17" height="5.5" rx="2.7" fill="#c2c2c6" stroke="#6a6a6e" stroke-width="1" transform="rotate(-9 259 964.04)"/>
<rect x="272.5" y="957.77" width="17" height="5.5" rx="2.7" fill="#c2c2c6" stroke="#6a6a6e" stroke-width="1" transform="rotate(-9 281 960.52)"/>
<rect x="294.5" y="954.25" width="17" height="5.5" rx="2.7" fill="#c2c2c6" stroke="#6a6a6e" stroke-width="1" transform="rotate(-9 303 957)"/>
<rect x="316.5" y="950.73" width="17" height="5.5" rx="2.7" fill="#c2c2c6" stroke="#6a6a6e" stroke-width="1" transform="rotate(-9 325 953.48)"/>
<rect x="338.5" y="947.21" width="17" height="5.5" rx="2.7" fill="#c2c2c6" stroke="#6a6a6e" stroke-width="1" transform="rotate(-9 347 949.96)"/>
<rect x="360.5" y="943.69" width="17" height="5.5" rx="2.7" fill="#c2c2c6" stroke="#6a6a6e" stroke-width="1" transform="rotate(-9 369 946.44)"/>
<rect x="239.5" y="972.45" width="17" height="5.5" rx="2.7" fill="#c2c2c6" stroke="#6a6a6e" stroke-width="1" transform="rotate(-9 248 975.2)"/>
<rect x="261.5" y="968.93" width="17" height="5.5" rx="2.7" fill="#c2c2c6" stroke="#6a6a6e" stroke-width="1" transform="rotate(-9 270 971.68)"/>
<rect x="283.5" y="965.41" width="17" height="5.5" rx="2.7" fill="#c2c2c6" stroke="#6a6a6e" stroke-width="1" transform="rotate(-9 292 968.16)"/>
<rect x="305.5" y="961.89" width="17" height="5.5" rx="2.7" fill="#c2c2c6" stroke="#6a6a6e" stroke-width="1" transform="rotate(-9 314 964.64)"/>
<rect x="327.5" y="958.37" width="17" height="5.5" rx="2.7" fill="#c2c2c6" stroke="#6a6a6e" stroke-width="1" transform="rotate(-9 336 961.12)"/>
<rect x="349.5" y="954.85" width="17" height="5.5" rx="2.7" fill="#c2c2c6" stroke="#6a6a6e" stroke-width="1" transform="rotate(-9 358 957.6)"/>
<rect x="371.5" y="951.33" width="17" height="5.5" rx="2.7" fill="#c2c2c6" stroke="#6a6a6e" stroke-width="1" transform="rotate(-9 380 954.08)"/>
<polygon points="321,812 395,798 395,895 321,911" fill="url(#gDoor)" />
<line x1="322" y1="812" x2="322" y2="910" stroke="#f2f2f4" stroke-width="2"/>
<circle cx="384" cy="847" r="7" fill="url(#gKnob)"/>
<circle cx="223.5" cy="786" r="2.5" fill="#c8a060"/>
<circle cx="396" cy="956" r="2.5" fill="#c8a060"/>
<circle cx="226" cy="1000" r="2.5" fill="#c8a060"/>
<circle cx="396" cy="758" r="2.5" fill="#c8a060"/>
<polygon points="128,743 175,725 250,711 330,712 400,719 423,739 192,775" fill="url(#gPlate)" />
<polygon points="128,743 192,775 423,739 423,747 192,783 128,751" fill="#f0f0f2" />
<path d="M128,751 L192,783 L423,747" stroke="#b8b8bc" stroke-width="1" fill="none"/>
<path d="M128,743 L192,775 L423,739" stroke="#fafafc" stroke-width="1.2" fill="none"/>
<circle cx="145" cy="745" r="2.2" fill="#b0b0b6"/>
<circle cx="196" cy="770" r="2.2" fill="#b0b0b6"/>
<circle cx="350" cy="745" r="2.2" fill="#b0b0b6"/>
<circle cx="405" cy="738" r="2.2" fill="#b0b0b6"/>
<circle cx="340" cy="716" r="2.2" fill="#b0b0b6"/>
<ellipse cx="230" cy="744" rx="78" ry="20" fill="#dcdce0" stroke="#c0c0c4" stroke-width="1"/>
<path d="M161,709 L161,741 A69,15 0 0 0 299,741 L299,709 Z" fill="url(#gRing)"/>
<defs><linearGradient id="gRingIn2" x1="0" y1="0" x2="0" y2="1"><stop offset="0" stop-color="#a0a0a4"/><stop offset="0.5" stop-color="#c4c4c8"/><stop offset="1" stop-color="#d8d8dc"/></linearGradient></defs>
<ellipse cx="230" cy="709" rx="69" ry="15" fill="url(#gRingIn2)"/>
<path d="M161,709 A69,15 0 0 1 299,709" fill="none" stroke="#e6e6ea" stroke-width="1.2"/>
<path d="M161,709 A69,15 0 0 0 299,709" fill="none" stroke="#eeeef2" stroke-width="1.8"/>
<polygon points="138,775 184,802 184,900 175,898 175,810 138,790" fill="#d8d8dc" stroke="#7c7c82" stroke-width="1.2"/>
<line x1="179" y1="806" x2="179" y2="897" stroke="#f2f2f4" stroke-width="1.5"/>
<circle cx="177" cy="894" r="2" fill="#9a9aa0"/>
<polygon points="83,793 135,787 173,811 117,818" fill="#e4e4e8" stroke="#9c9ca0" stroke-width="1"/>
<line x1="100" y1="806" x2="150" y2="800" stroke="#b0b0b4" stroke-width="1"/>
<polygon points="83,793 117,818 117,896 84,866" fill="url(#gBoxL)" stroke="#9c9ca0" stroke-width="1"/>
<polygon points="88,806 113,824 113,884 88,862" fill="none" stroke="#dedee2" stroke-width="1.2"/>
<polygon points="79,805 84,806 84,866 79,862" fill="#b4b4b8" />
<polygon points="117,818 173,811 175,888 117,896" fill="#dadade" stroke="#9c9ca0" stroke-width="1"/>
<circle cx="114" cy="870" r="7.5" fill="url(#gKnob)"/>
<polygon points="144,940 186,971 186,1000 144,966" fill="#c8c8cc" stroke="#8c8c90" stroke-width="1"/>
<circle cx="156.5" cy="969" r="7.5" fill="url(#gKnob)"/>
<path d="M450.5,781 V746 H441.5 L455,716 L467.5,746 H458.5 V781" fill="none" stroke="#f0f000" stroke-width="2.4" stroke-linejoin="miter"/>
<path d="M438,776 V809 H428.5 L441.5,842 L454.5,809 H447 V776" fill="none" stroke="#f0f000" stroke-width="2.4" stroke-linejoin="miter"/>
<path d="M510,776 L543,767 L576,776 L576,1089 Q543,1097 510,1089 Z" fill="#e20406"/>
<path d="M427,321 H511" stroke="#444446" stroke-width="2.3" fill="none"/>
<path d="M302,386 V429 H515" stroke="#444446" stroke-width="2.3" fill="none"/>
<path d="M436,505 V547 H515" stroke="#444446" stroke-width="2.3" fill="none"/>
<path d="M435,652 V716" stroke="#444446" stroke-width="2.3" fill="none"/>
<path d="M138,505 V712" stroke="#444446" stroke-width="2.3" fill="none"/>
<path d="M306,545 V775" stroke="#444446" stroke-width="2.3" fill="none"/>
<path d="M360,595 V828" stroke="#444446" stroke-width="2.3" fill="none"/>
<path d="M210,635 V700" stroke="#444446" stroke-width="2.3" fill="none"/>
<path d="M90,722 V790" stroke="#444446" stroke-width="2.3" fill="none"/>
<path d="M69.5,921 V955 H147" stroke="#444446" stroke-width="2.3" fill="none"/>
<path d="M73.5,1010 V1043 H153" stroke="#444446" stroke-width="2.3" fill="none"/>
<path d="M598,709 V1047" stroke="#e8141e" stroke-width="1.6" stroke-dasharray="15,4" fill="none"/>
<path d="M582,709 H616 M582,1047 H616" stroke="#e8141e" stroke-width="1.6" stroke-dasharray="9,4" fill="none"/>
<path d="M48,1017 L120,1115" stroke="#e8141e" stroke-width="1.8" stroke-dasharray="17,8" fill="none"/>
<path d="M41,1015.5 L61,1012.7 M97.5,1122.5 L127,1114" stroke="#e8141e" stroke-width="1.8" fill="none"/>
<path d="M496,1058 L182.5,1129" stroke="#e8141e" stroke-width="1.8" stroke-dasharray="20,14" fill="none"/>
<path d="M175.5,1117.7 L189.6,1144.5 M492,1048.5 L503.7,1067" stroke="#e8141e" stroke-width="1.8" fill="none"/>
<path d="M98,1157.6 H550 M98,1132 V1180 M550,1137 V1182" stroke="#e8141e" stroke-width="1.8" fill="none"/>
<pattern id="pZig" x="0" y="1492" width="5.3" height="8" patternUnits="userSpaceOnUse"><path d="M4,-0.5 L1.3,4 L4,8.5" stroke="#f40a0a" stroke-width="2.6" fill="none"/></pattern>
<rect x="0" y="1492" width="639" height="8" fill="url(#pZig)"/>
</svg>
<div class="title" style="top:77px;">产品属性</div>
<div class="title" style="top:135px;">多功能柴煤两用火炉</div>

<!-- labels -->
<div class="lbl" style="left:385px;top:310px;">弯头</div>
<div class="lbl" style="left:280px;top:361px;">烟管</div>
<div class="lbl" style="left:405px;top:479px;">防烫网</div>
<div class="lbl" style="left:77px;top:481px;">桌面安装支架</div>
<div class="lbl" style="left:255px;top:519px;">炉体防烫网</div>
<div class="lbl" style="left:340px;top:572px;">烤箱</div>
<div class="lbl" style="left:180px;top:608px;">防爆圈</div>
<div class="lbl" style="left:383px;top:627px;">可拆卸烟道</div>
<div class="lbl" style="left:60px;top:700px;">进柴口</div>
<div class="lbl" style="left:40px;top:898px;">接灰盒</div>
<div class="lbl" style="left:21px;top:984px;">暖脚踏</div>
<!-- banner text -->
<div class="vcol" style="left:544px;top:787px;">可<br>拆<br>卸<br>烟<br>道<br><span class="pu">，</span><br>便<br>于<br>更<br>换<br>不<br>同<br>尺<br>寸<br>烟<br>道<br><span class="pu">，</span><br></div>
<div class="vcol" style="left:522px;top:787px;">清<br>洁<br><span class="pu">、</span><br>维<br>修<br><span class="pu">、</span><br>运<br>输<br>存<br>放<br>等<br><span class="pu">。</span><br></div>
<div class="a" style="left:602.5px;top:815px;color:#e8141e;font-size:19px;line-height:20px;transform-origin:0 0;transform:rotate(90deg) translate(0,-20px);">炉身高 66cm</div>
<div class="a" style="left:44px;top:1030px;color:#e8141e;font-size:18px;line-height:19px;transform-origin:0 0;transform:rotate(55deg);">底座长52cm</div>
<div class="a" style="left:313px;top:1109px;color:#e8141e;font-size:19px;line-height:20px;transform-origin:0 0;transform:rotate(-15deg);">底座长68cm</div>
<div class="a" style="left:170px;top:1162px;color:#e8141e;font-size:18.7px;line-height:22px;font-weight:bold;">炉体横向长度:106cm, 116cm, 126cm</div>
<div class="a" style="left:151px;top:1184px;color:#e8141e;font-size:19.5px;line-height:24px;">(不同尺寸的桌面，搭配不同长度的烟嘴)</div>
<!-- spec box -->
<div class="a" style="left:7px;top:1227px;width:618px;height:240px;border:2px solid #f4a4ae;border-radius:10px;box-sizing:border-box;"></div>
<div class="spec" style="top:1240px;">品名<span class="L">:</span> 多功能柴火炉</div>
<div class="spec" style="top:1240px;left:355px;">产地<span class="L">:</span> 湖北枝江</div>
<div class="spec" style="top:1267px;">取暖面积<span class="L">:</span> <span class="L">10-50</span>平方米，立体散热，有效恒温</div>
<div class="spec" style="top:1294px;">适用范围<span class="L">:</span> 客厅、餐厅、卧室、温棚等</div>
<div class="spec" style="top:1321px;">燃料类型<span class="L">:</span> 木材，煤块，蜂窝煤，碳等</div>
<div class="spec" style="top:1348px;">产品功能<span class="L">:</span> 取暖, 烧水, 做饭, 火锅, 茶几, 烤箱, 餐桌, 烘干衣物等</div>
<div class="spec" style="top:1375px;">整体重量<span class="L">:</span> <span class="L">90kg</span>左右【桌面型号不同整体重量不同】</div>
<div class="spec" style="top:1402px;">不锈钢烟管直径：<span class="L">102mm</span></div>
<div class="spec" style="top:1402px;left:312px;">不锈钢弯头直径<span class="L">:</span> <span class="L">100mm</span></div>
<div class="spec" style="top:1429px;">柴内胆直径<span class="L">:</span> <span class="L">24cm</span><span style="display:inline-block;width:13px"></span>蜂窝煤内胆内径<span class="L">:</span> <span class="L">13cm</span><span style="display:inline-block;width:6px"></span>块煤内胆内径<span class="L">:</span> <span class="L">16cm</span></div>
</body></html>
